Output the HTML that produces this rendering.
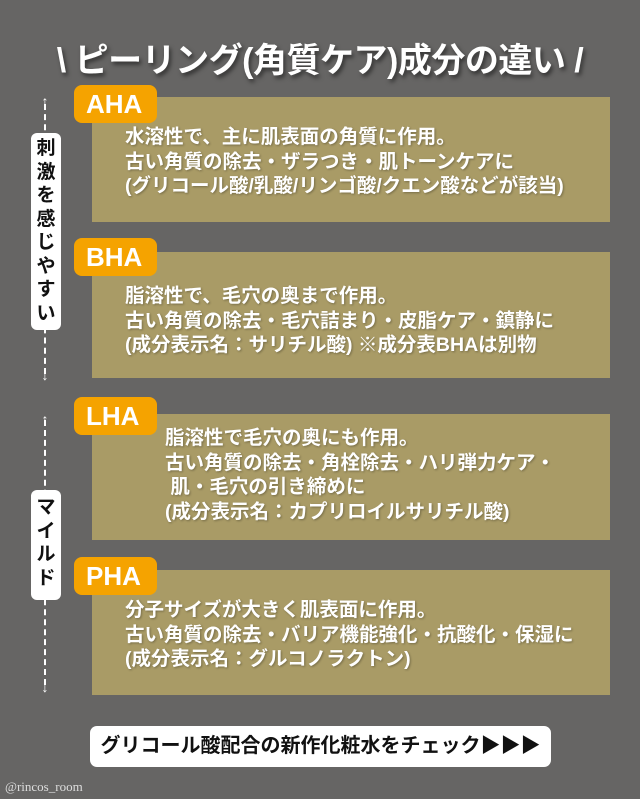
<!DOCTYPE html>
<html><head><meta charset="utf-8"><style>
*{margin:0;padding:0;box-sizing:border-box}
body{width:640px;height:799px;overflow:hidden;background:#666564;position:relative;font-family:"Liberation Sans","Noto Sans CJK JP",sans-serif}
.a{position:absolute}
.title{left:0;width:640px;top:33px;text-align:center;color:#fff;font-weight:bold;font-size:34px;letter-spacing:-0.5px;text-shadow:2px 3px 4px rgba(0,0,0,.5)}
.panel{background:#a99b66;left:92px;width:518px}
.tag{background:#f5a300;color:#fff;font-weight:bold;font-size:26px;left:74px;width:83px;height:38px;border-radius:8px;line-height:38px;padding-left:12px}
.txt{color:#fff;font-weight:bold;font-size:19.5px;line-height:24.5px;white-space:nowrap;text-shadow:1px 1px 2px rgba(0,0,0,.3)}
.vl{left:44px;border-left:2px dashed #fff;width:0}
.lab{background:#fff;border-radius:6px;left:31px;width:30px;color:#111;font-weight:bold;font-size:19px;line-height:23.5px;text-align:center;padding-top:4px}
.ar{left:38px;color:#fff;font-size:14px;width:14px;text-align:center;line-height:14px}
</style></head><body>
<div class="a title">\ ピーリング(角質ケア)成分の違い /</div>

<div class="a panel" style="top:97px;height:125px"></div>
<div class="a tag" style="top:85px">AHA</div>
<div class="a txt" style="left:125px;top:125px">水溶性で、主に肌表面の角質に作用。<br>古い角質の除去・ザラつき・肌トーンケアに<br>(グリコール酸/乳酸/リンゴ酸/クエン酸などが該当)</div>

<div class="a panel" style="top:252px;height:126px"></div>
<div class="a tag" style="top:238px">BHA</div>
<div class="a txt" style="left:125px;top:284px">脂溶性で、毛穴の奥まで作用。<br>古い角質の除去・毛穴詰まり・皮脂ケア・鎮静に<br>(成分表示名：サリチル酸) ※成分表BHAは別物</div>

<div class="a panel" style="top:414px;height:126px"></div>
<div class="a tag" style="top:397px">LHA</div>
<div class="a txt" style="left:165px;top:426px">脂溶性で毛穴の奥にも作用。<br>古い角質の除去・角栓除去・ハリ弾力ケア・<br>&nbsp;肌・毛穴の引き締めに<br>(成分表示名：カプリロイルサリチル酸)</div>

<div class="a panel" style="top:570px;height:125px"></div>
<div class="a tag" style="top:557px">PHA</div>
<div class="a txt" style="left:125px;top:598px">分子サイズが大きく肌表面に作用。<br>古い角質の除去・バリア機能強化・抗酸化・保湿に<br>(成分表示名：グルコノラクトン)</div>

<div class="a ar" style="top:94px">↑</div>
<div class="a vl" style="top:104px;height:270px"></div>
<div class="a ar" style="top:368px">↓</div>
<div class="a lab" style="top:133px;height:197px">刺<br>激<br>を<br>感<br>じ<br>や<br>す<br>い</div>

<div class="a ar" style="top:412px">↑</div>
<div class="a vl" style="top:420px;height:265px"></div>
<div class="a ar" style="top:680px">↓</div>
<div class="a lab" style="top:490px;height:110px;padding-top:6px">マ<br>イ<br>ル<br>ド</div>

<div class="a" style="left:90px;top:726px;width:461px;height:41px;background:#fff;border-radius:7px;color:#111;font-weight:bold;font-size:20px;line-height:41px;text-align:center">グリコール酸配合の新作化粧水をチェック▶▶▶</div>
<div class="a" style="left:5px;top:779px;color:#ddd;font-family:'Liberation Serif',serif;font-size:13px">@rincos_room</div>
</body></html>
